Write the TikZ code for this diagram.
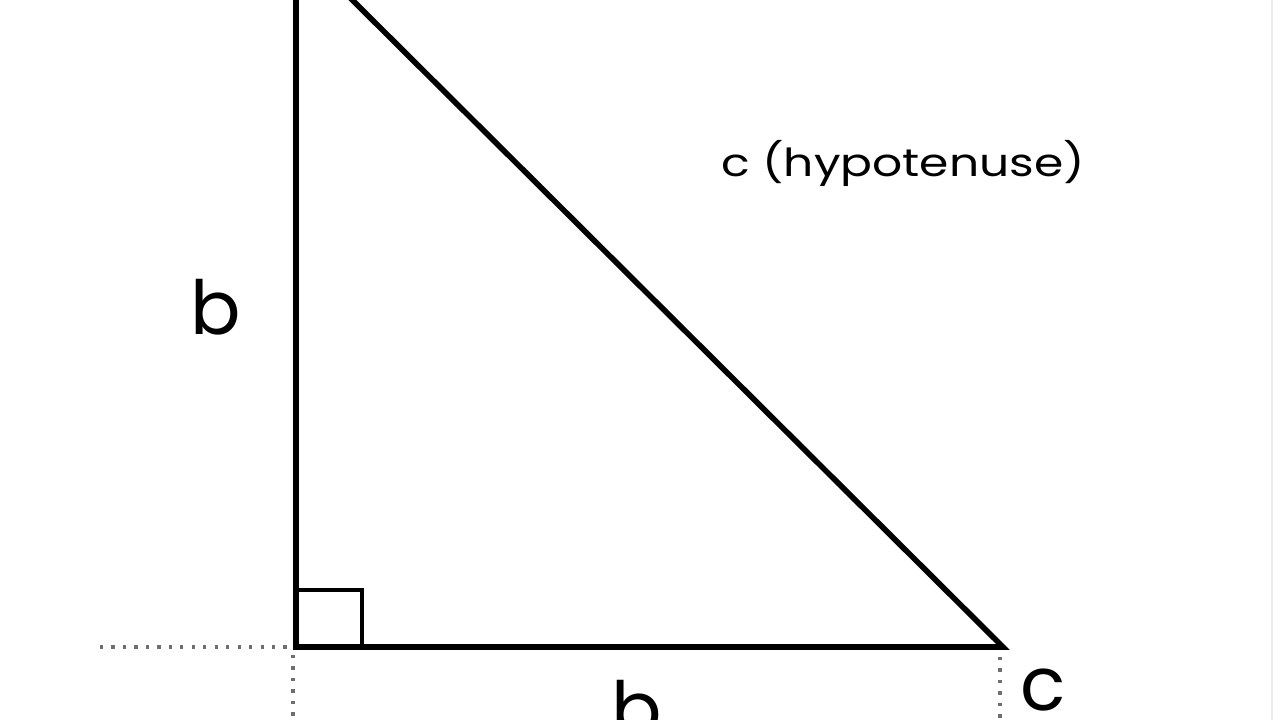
\documentclass[tikz,border=0pt]{standalone}
\usepackage{fontspec}
\setmainfont{Poppins}
\newfontfamily\widefont[FakeStretch=1.22]{Poppins}
\definecolor{dotgray}{HTML}{6E6E6E}
\definecolor{edgegray}{HTML}{EBEBEB}
\tikzset{
  side/.style={line width=4.2pt, line join=miter, line cap=rect},
  guide/.style={dotgray, line width=2.4pt, dash pattern=on 2.4pt off 6.2pt},
  biglabel/.style={inner sep=0pt, font=\fontsize{56}{60}\selectfont},
  smalllabel/.style={inner sep=0pt, font=\widefont\fontsize{29}{34}\selectfont},
}
\begin{document}
\begin{tikzpicture}[x=0.75pt,y=-0.75pt]
\useasboundingbox (0,0) rectangle (1280,720);
\fill[white] (0,0) rectangle (1280,720);
\clip (0,0) rectangle (1280,720);
\draw[edgegray, line width=1.5pt] (1272,0) -- (1272,720);
\coordinate (A) at (296,-56);
\coordinate (B) at (296,647);
\coordinate (C) at (1003,647);
\coordinate (hl) at (100,647);
\coordinate (bl) at (293,720);
\coordinate (cl) at (1000,720);
% guides
\draw[guide] (hl) -- (293,647);
\draw[guide] (293,655) -- (bl);
\draw[guide] (1000,657) -- (cl);
% triangle
\draw[side] (A) -- (B) -- (C) -- cycle;
\draw[line width=3.3pt] (296,590) -- (362,590) -- (362,647);
% labels
\node[biglabel, anchor=base] (lb) at (216,334) {b};
\node[biglabel, anchor=base] (lbb) at (637,735) {b};
\node[biglabel, anchor=base west] (lc) at (1020,710) {c};
\node[smalllabel, anchor=base west] (lh) at (721,177) {c (hypotenuse)};
\end{tikzpicture}
\end{document}
